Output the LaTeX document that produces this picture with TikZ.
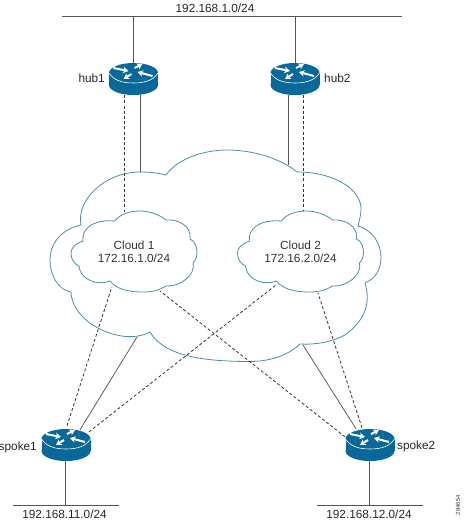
\documentclass[tikz,border=0pt]{standalone}
\usepackage{fontspec}
\setmainfont{Liberation Sans}
\usetikzlibrary{arrows.meta}
\definecolor{routerblue}{HTML}{08689A}
\definecolor{cloudline}{HTML}{4F8CA3}
\definecolor{linkgrey}{HTML}{555555}
\tikzset{
  routerbox/.style={minimum width=49pt,minimum height=32pt,inner sep=0pt},
  cloudbox/.style={minimum width=126pt,minimum height=81pt,inner sep=0pt,align=center,font=\fontsize{11.8}{13}\selectfont,text=black!80},
  backbonebox/.style={minimum width=331pt,minimum height=212pt,inner sep=0pt},
  lbl/.style={inner sep=0pt,font=\fontsize{11.8}{13}\selectfont,text=black!85},
  cloudedge/.style={draw=cloudline,line width=0.8pt},
  link/.style={draw=linkgrey,line width=0.75pt},
  dashlink/.style={draw=black!80,line width=0.8pt,dash pattern=on 3pt off 2.2pt},
  lan/.style={draw=linkgrey,line width=0.75pt},
  rarrow/.style={white,line width=2pt,-{Stealth[length=5.5pt,width=6.5pt]}},
}
\newcommand{\routerart}[1]{%
  \begin{scope}[shift={(#1.center)}]
    \fill[routerblue] (0,6) ellipse [x radius=24.5pt,y radius=10pt];
    \fill[routerblue] (-24.5,-6) rectangle (24.5,6);
    \fill[routerblue] (0,-6) ellipse [x radius=24.5pt,y radius=10pt];
    \draw[white,line width=0.6pt] (-24.5,-6) .. controls (-20,1) and (-12,4) .. (0,4) .. controls (12,4) and (20,1) .. (24.5,-6);
    \draw[rarrow] (-20,-11) -- (-5,-8);
    \draw[rarrow] (19,-3) -- (4,-7);
    \draw[rarrow] (1,-11) -- (9,-15);
    \draw[rarrow] (-2,-5) -- (-10,0);
  \end{scope}}
\newcommand{\innercloud}{(115,221) .. controls (120,214) and (130,211) .. (140,211) .. controls (150,211) and (160,215) .. (166,220)
  .. controls (178,219) and (192,226) .. (190,239)
  .. controls (195,241) and (197,247) .. (197,253) .. controls (197,257) and (195,261) .. (193,263)
  .. controls (196,275) and (180,287) .. (166,286)
  .. controls (160,290) and (152,292) .. (143,292) .. controls (130,292) and (117,290) .. (110,281)
  .. controls (98,286) and (80,280) .. (79,266)
  .. controls (74,264) and (71,259) .. (71,253) .. controls (71,247) and (77,243) .. (83,241)
  .. controls (81,230) and (92,219) .. (115,221) -- cycle}
\begin{document}
\begin{tikzpicture}[x=1pt,y=-1pt]
\useasboundingbox (0,0) rectangle (465,524);
% backbone cloud
\draw[cloudedge] (166,175) .. controls (178,158) and (205,150) .. (227,150)
  .. controls (252,150) and (280,158) .. (297,172)
  .. controls (335,172) and (362,190) .. (361,210) .. controls (361,215) and (359,221) .. (358,226)
  .. controls (372,230) and (381,243) .. (381,257) .. controls (381,270) and (375,279) .. (365,283)
  .. controls (370,300) and (368,318) .. (345,335) .. controls (332,342) and (315,345) .. (300,344)
  .. controls (285,358) and (265,362) .. (245,361.5) .. controls (210,361) and (165,358) .. (150,332)
  .. controls (135,340) and (115,337) .. (98,328) .. controls (82,320) and (71,305) .. (71,292)
  .. controls (58,290) and (50,275) .. (50,260) .. controls (50,243) and (62,229) .. (81,225)
  .. controls (76,200) and (105,172) .. (140,172) .. controls (150,172) and (158,173) .. (166,175) -- cycle;
\draw[cloudedge] \innercloud;
\begin{scope}[xshift=166.5pt]
\draw[cloudedge] \innercloud;
\end{scope}
% nodes
\node[backbonebox] (backbone) at (215.5,255.5) {};
\node[cloudbox] (cloud1) at (134,251.5) {Cloud 1\\172.16.1.0/24};
\node[cloudbox] (cloud2) at (300.5,251.5) {Cloud 2\\172.16.2.0/24};
\node[routerbox] (hub1) at (133.5,79) {};
\node[routerbox] (hub2) at (295,79) {};
\node[routerbox] (spoke1) at (66,445) {};
\node[routerbox] (spoke2) at (370,445) {};
\node[lbl] (toplan) at (215,8) {192.168.1.0/24};
\node[lbl,anchor=east] (hub1l) at (105,78) {hub1};
\node[lbl,anchor=west] (hub2l) at (324,78) {hub2};
\node[lbl,anchor=east] (spoke1l) at (37,447) {spoke1};
\node[lbl,anchor=west] (spoke2l) at (397,446) {spoke2};
\node[lbl] (lan1l) at (64.5,514) {192.168.11.0/24};
\node[lbl] (lan2l) at (369,514) {192.168.12.0/24};
\node[inner sep=0pt,rotate=90,font=\fontsize{6}{7}\selectfont,text=black!75] (figid) at (458,505) {284654};
% LANs
\coordinate (topl) at (62,16.5);
\coordinate (topr) at (402,16.5);
\coordinate (s1l) at (13,505);
\coordinate (s1r) at (119,505);
\coordinate (s2l) at (317,505);
\coordinate (s2r) at (423,505);
\draw[lan] (topl) -- (topr);
\draw[lan] (s1l) -- (s1r);
\draw[lan] (s2l) -- (s2r);
\draw[link] (hub1.north) -- (hub1.north |- topl);
\draw[link] (hub2.north) -- (hub2.north |- topl);
\draw[link] ([shift={(-1,0)}]spoke1.south) -- ([shift={(-1,0)}]spoke1.south |- s1l);
\draw[link] ([shift={(-1,0)}]spoke2.south) -- ([shift={(-1,0)}]spoke2.south |- s2l);
% hub links
\draw[dashlink] ([shift={(-9.5,0)}]hub1.south) -- ([shift={(-10,-39.5)}]cloud1.south |- cloud1.center);
\draw[link] ([shift={(6.5,0)}]hub1.south) -- ([shift={(6,-83.5)}]backbone.center -| cloud1.center);
\draw[link] ([shift={(-7,0)}]hub2.south) -- ([shift={(-7,-90.5)}]backbone.center -| hub2.south);
\draw[dashlink] ([shift={(8,0)}]hub2.south) -- ([shift={(2.5,-40.5)}]cloud2.center);
% spoke links
\draw[dashlink] ([shift={(1,-3)}]spoke1.north) -- ([shift={(-22,35)}]cloud1.center);
\draw[link] ([shift={(14,1)}]spoke1.north) -- ([shift={(-78.5,81.5)}]backbone.center);
\draw[dashlink] ([shift={(23,3)}]spoke1.north) -- ([shift={(-24.5,33.5)}]cloud2.center);
\draw[dashlink] ([shift={(-25,8)}]spoke2.north) -- ([shift={(26,39.5)}]cloud1.center);
\draw[link] ([shift={(-14,0)}]spoke2.north) -- ([shift={(87.5,89.5)}]backbone.center);
\draw[dashlink] ([shift={(-8,-1)}]spoke2.north) -- ([shift={(17.5,41.5)}]cloud2.center);
% routers
\routerart{hub1}
\routerart{hub2}
\routerart{spoke1}
\routerart{spoke2}
\end{tikzpicture}
\end{document}
